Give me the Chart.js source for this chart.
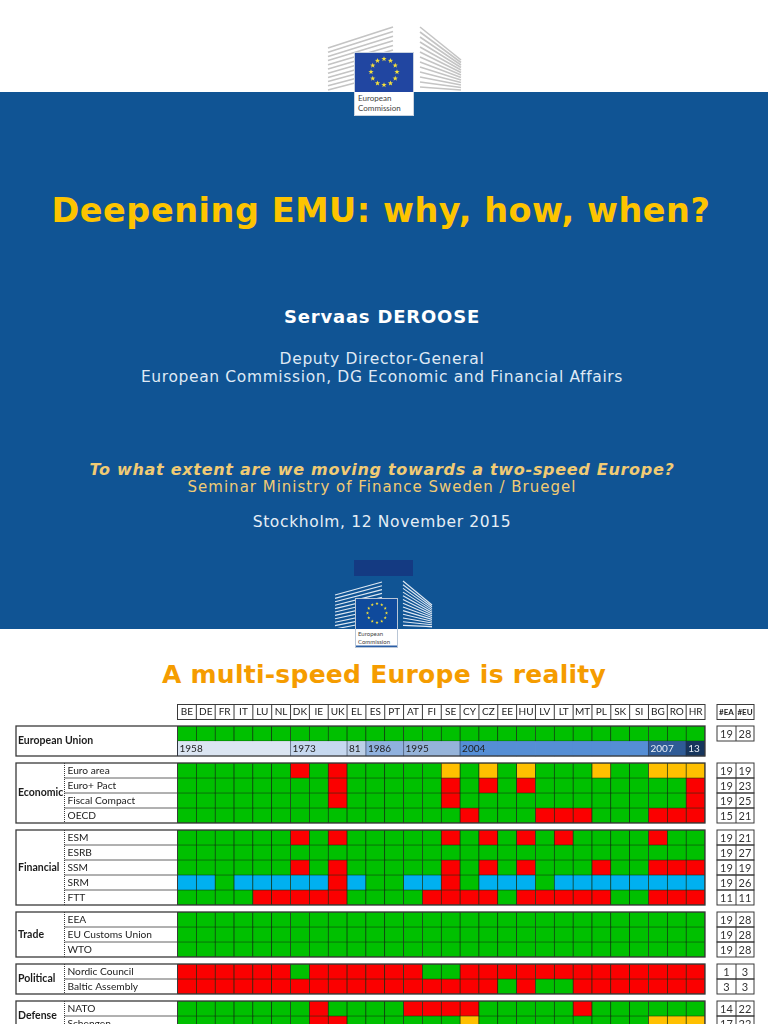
<!DOCTYPE html>
<html>
<head>
<meta charset="utf-8">
<title>A multi-speed Europe is reality</title>
<script src="https://cdn.jsdelivr.net/npm/chart.js@4/dist/chart.umd.min.js"></script>
<style>
  html, body { margin: 0; padding: 0; background: #fff; }
  #page { position: relative; width: 768px; height: 1024px; overflow: hidden; font-family: "DejaVu Sans", sans-serif; }
  #band { position: absolute; left: 0; top: 92px; width: 768px; height: 537px; background: #105494; }
  #logos { position: absolute; left: 0; top: 0; }
  .line { position: absolute; left: 0; width: 768px; text-align: center; white-space: nowrap; transform: translateY(-50%); }
  .logo-text { position: absolute; font-family: Lato, sans-serif; color: #444; white-space: nowrap; }
  #chart-wrap { position: absolute; left: 0; top: 695px; width: 768px; height: 329px; }
</style>
</head>
<body>
<div id="page">
  <div id="band"></div>
  <svg id="logos" width="768" height="1024"></svg>
  <div class="logo-text" style="left:358px;top:93px;font-size:8px;line-height:10px">European<br>Commission</div>
  <div class="logo-text" style="left:358px;top:630px;font-size:6px;line-height:7.5px">European<br>Commission</div>

  <div class="line" style="top:210px;left:-3px;color:#fdc400;font-size:33.5px;font-weight:bold;letter-spacing:.55px">Deepening EMU: why, how, when?</div>
  <div class="line" style="top:316px;left:-2px;color:#fff;font-size:18px;font-weight:bold;letter-spacing:.8px">Servaas DEROOSE</div>
  <div class="line" style="top:359px;left:-2px;color:#dfe9f4;font-size:15.5px;letter-spacing:.65px">Deputy Director-General</div>
  <div class="line" style="top:377px;left:-2px;color:#dfe9f4;font-size:15.5px;letter-spacing:.63px">European Commission, DG Economic and Financial Affairs</div>
  <div class="line" style="top:469px;left:-2px;color:#f0cb74;font-size:16px;font-weight:bold;font-style:italic;letter-spacing:.7px">To what extent are we moving towards a two-speed Europe?</div>
  <div class="line" style="top:487px;left:-2px;color:#f0cb74;font-size:15px;letter-spacing:1px">Seminar Ministry of Finance Sweden / Bruegel</div>
  <div class="line" style="top:522px;left:-2px;color:#e6eef6;font-size:15.5px;letter-spacing:.65px">Stockholm, 12 November 2015</div>
  <div class="line" style="top:674px;left:0;color:#f59c00;font-size:25px;font-weight:bold;letter-spacing:.25px">A multi-speed Europe is reality</div>

  <div id="chart-wrap"><canvas id="chart" width="768" height="329"></canvas></div>
</div>

<script>
// Member states, in the order of the slide
const countries = ['BE','DE','FR','IT','LU','NL','DK','IE','UK','EL','ES','PT','AT','FI','SE','CY','CZ','EE','HU','LV','LT','MT','PL','SK','SI','BG','RO','HR'];

// EU accession bands (label and number of columns each one spans)
const joinLabels = ['1958','1973','81','1986','1995','2004','2007','13'];
const joinSpans = [6,3,1,2,3,10,2,1];

// Cell status: 0 member, 1 not a member, 2 outside but committed, 3 via ECB/other
const euMember       = [0,0,0,0,0,0,0,0,0,0,0,0,0,0,0,0,0,0,0,0,0,0,0,0,0,0,0,0];
const euroArea       = [0,0,0,0,0,0,1,0,1,0,0,0,0,0,2,0,2,0,2,0,0,0,2,0,0,2,2,2];
const euroPlusPact   = [0,0,0,0,0,0,0,0,1,0,0,0,0,0,1,0,1,0,1,0,0,0,0,0,0,0,0,1];
const fiscalCompact  = [0,0,0,0,0,0,0,0,1,0,0,0,0,0,1,0,0,0,0,0,0,0,0,0,0,0,0,1];
const oecd           = [0,0,0,0,0,0,0,0,0,0,0,0,0,0,0,1,0,0,0,1,1,1,0,0,0,1,1,1];
const esm            = [0,0,0,0,0,0,1,0,1,0,0,0,0,0,1,0,1,0,1,0,1,0,0,0,0,1,0,0];
const esrb           = [0,0,0,0,0,0,0,0,0,0,0,0,0,0,0,0,0,0,0,0,0,0,0,0,0,0,0,0];
const ssm            = [0,0,0,0,0,0,1,0,1,0,0,0,0,0,1,0,1,0,1,0,0,0,1,0,0,1,1,1];
const srm            = [3,3,0,3,3,3,3,3,1,3,0,0,3,3,1,0,3,3,3,0,3,3,3,3,3,3,3,3];
const ftt            = [0,0,0,0,1,1,1,1,1,0,0,0,0,1,1,1,1,0,1,1,1,1,1,0,0,1,1,1];
const eea            = [0,0,0,0,0,0,0,0,0,0,0,0,0,0,0,0,0,0,0,0,0,0,0,0,0,0,0,0];
const customsUnion   = [0,0,0,0,0,0,0,0,0,0,0,0,0,0,0,0,0,0,0,0,0,0,0,0,0,0,0,0];
const wto            = [0,0,0,0,0,0,0,0,0,0,0,0,0,0,0,0,0,0,0,0,0,0,0,0,0,0,0,0];
const nordicCouncil  = [1,1,1,1,1,1,0,1,1,1,1,1,1,0,0,1,1,1,1,1,1,1,1,1,1,1,1,1];
const balticAssembly = [1,1,1,1,1,1,1,1,1,1,1,1,1,1,1,1,1,0,1,0,0,1,1,1,1,1,1,1];
const nato           = [0,0,0,0,0,0,0,1,0,0,0,0,1,1,1,1,0,0,0,0,0,1,0,0,0,0,0,0];
const schengen       = [0,0,0,0,0,0,0,1,1,0,0,0,0,0,0,2,0,0,0,0,0,0,0,0,0,2,2,2];

const groupNames = ['European Union','Economic','Financial','Trade','Political','Defense'];
const groupSizes = [2,4,5,3,2,2];
const rowNames = ['','','Euro area','Euro+ Pact','Fiscal Compact','OECD','ESM','ESRB','SSM','SRM','FTT','EEA','EU Customs Union','WTO','Nordic Council','Baltic Assembly','NATO','Schengen'];
// null is the accession band, which sits under the EU row
const rowStatus = [euMember,null,euroArea,euroPlusPact,fiscalCompact,oecd,esm,esrb,ssm,srm,ftt,eea,customsUnion,wto,nordicCouncil,balticAssembly,nato,schengen];
const countEA = [19,null,19,19,19,15,19,19,19,19,11,19,19,19,1,3,14,17];
const countEU = [28,null,19,23,25,21,21,27,19,26,11,28,28,28,3,3,22,22];

// Styling
const statusColors = ['#00c000','#fb0000','#ffc000','#00b0f0'];
const joinColors = ['#dbe5f2','#c6d8ef','#bccfe6','#8fb1de','#95b3d9','#558ed5','#2f5b96','#16355c'];
const gapUnits = 7 / 15; // gap between groups, in row heights
const rowHeight = 15;

// Row start positions on the y scale, one unit per row
const rowTop = [];
const groupTop = [];
let pos = 0;
groupSizes.forEach(size => {
  groupTop.push(pos);
  for (let i = 0; i < size; i++) rowTop.push(pos + i);
  pos += size + gapUnits;
});

const joinColumn = [];
joinSpans.forEach((span, i) => { for (let k = 0; k < span; k++) joinColumn.push(i); });

const datasets = rowStatus.map((status, r) => ({
  label: rowNames[r] || (status ? groupNames[0] : 'Accession'),
  data: countries.map(() => [rowTop[r], rowTop[r] + 1]),
  grouped: false,
  barPercentage: 1,
  categoryPercentage: 1,
  borderSkipped: false,
  borderColor: '#123012',
  borderWidth: status ? 0.7 : 0,
  backgroundColor: ctx => status ? statusColors[status[ctx.dataIndex]] : joinColors[joinColumn[ctx.dataIndex]]
}));

const tableFont = 'Lato, sans-serif';
const lineColor = '#3a3a3a';

// Left label table, header boxes, accession labels and the two count columns
const slideTable = {
  id: 'slideTable',
  afterDatasetsDraw(chart) {
    const c = chart.ctx, y = chart.scales.y;
    const left = 16, split = 64.5, right = chart.chartArea.left, tableRight = chart.chartArea.right;
    const colW = (tableRight - right) / countries.length;
    const ea = 717, mid = 736, eu = 754;
    c.save();
    c.textBaseline = 'middle';

    // groups: frame, divider and bold label
    groupNames.forEach((name, g) => {
      const top = y.getPixelForValue(groupTop[g]);
      const bottom = y.getPixelForValue(groupTop[g] + groupSizes[g]);
      c.strokeStyle = lineColor;
      c.lineWidth = 1.3;
      c.strokeRect(left, top, tableRight - left, bottom - top);
      c.fillStyle = '#1c1c1c';
      c.font = 'bold 10.5px ' + tableFont;
      c.textAlign = 'left';
      c.fillText(name, left + 2, (top + bottom) / 2);
      if (g > 0) {
        c.setLineDash([1, 1]);
        c.lineWidth = 1;
        c.beginPath(); c.moveTo(split, top); c.lineTo(split, bottom); c.stroke();
        c.setLineDash([]);
        c.lineWidth = 0.8;
        for (let i = 1; i < groupSizes[g]; i++) {
          const ly = y.getPixelForValue(groupTop[g] + i);
          c.beginPath(); c.moveTo(split, ly); c.lineTo(right, ly); c.stroke();
        }
      }
      c.lineWidth = 1;
      c.beginPath(); c.moveTo(right, top); c.lineTo(right, bottom); c.stroke();
    });

    // accession band separators and labels
    const bandTop = y.getPixelForValue(rowTop[1]);
    const bandBottom = y.getPixelForValue(rowTop[1] + 1);
    let col = 0;
    joinLabels.forEach((label, i) => {
      const bx = right + col * colW;
      c.strokeStyle = 'rgba(40,50,70,0.7)';
      c.lineWidth = 0.8;
      c.beginPath(); c.moveTo(bx, bandTop); c.lineTo(bx, bandBottom); c.stroke();
      c.fillStyle = i >= 6 ? '#e8eef6' : '#222';
      c.font = '10px ' + tableFont;
      c.textAlign = 'left';
      c.fillText(label, bx + 2, (bandTop + bandBottom) / 2 + 0.5);
      col += joinSpans[i];
    });

    // country header boxes
    const headTop = 9.5, headBottom = 24.5;
    c.strokeStyle = lineColor;
    c.lineWidth = 1;
    c.strokeRect(right, headTop, tableRight - right, headBottom - headTop);
    for (let i = 1; i < countries.length; i++) {
      const hx = right + i * colW;
      c.beginPath(); c.moveTo(hx, headTop); c.lineTo(hx, headBottom); c.stroke();
    }

    // count columns
    c.strokeRect(ea, headTop, eu - ea, headBottom - headTop);
    c.beginPath(); c.moveTo(mid, headTop); c.lineTo(mid, headBottom); c.stroke();
    c.fillStyle = '#222';
    c.font = 'bold 8px ' + tableFont;
    c.textAlign = 'center';
    c.fillText('#EA', (ea + mid) / 2, (headTop + headBottom) / 2);
    c.fillText('#EU', (mid + eu) / 2, (headTop + headBottom) / 2);
    c.font = '11px ' + tableFont;
    countEA.forEach((v, r) => {
      if (v === null) return;
      const ty = y.getPixelForValue(rowTop[r]);
      const by = y.getPixelForValue(rowTop[r] + 1);
      c.strokeStyle = lineColor;
      c.strokeRect(ea, ty, eu - ea, by - ty);
      c.beginPath(); c.moveTo(mid, ty); c.lineTo(mid, by); c.stroke();
      c.fillStyle = '#333';
      c.fillText(String(v), (ea + mid) / 2, (ty + by) / 2 + 0.5);
      c.fillText(String(countEU[r]), (mid + eu) / 2, (ty + by) / 2 + 0.5);
    });
    c.restore();
  }
};

new Chart(document.getElementById('chart'), {
  type: 'bar',
  data: { labels: countries, datasets: datasets },
  plugins: [slideTable],
  options: {
    responsive: false,
    animation: false,
    layout: { padding: { left: 67.5, right: 63, top: 0, bottom: 0 } },
    plugins: { legend: { display: false }, tooltip: { enabled: false }, title: { display: false } },
    scales: {
      x: {
        position: 'top',
        grid: { display: false, drawTicks: false },
        border: { display: false },
        ticks: { autoSkip: false, maxRotation: 0, minRotation: 0, padding: 8, color: '#222', font: { family: tableFont, size: 10 } },
        afterFit(axis) { axis.height = 31; axis.paddingLeft = 0; axis.paddingRight = 0; }
      },
      y: {
        reverse: true,
        min: 0,
        max: 298 / rowHeight,
        grid: { display: false, drawTicks: false },
        border: { display: false },
        afterBuildTicks(axis) {
          axis.ticks = rowNames.map((name, r) => ({ value: rowTop[r] + 0.5, label: name }));
        },
        ticks: {
          autoSkip: false,
          crossAlign: 'far',
          padding: 0,
          color: '#222',
          font: { family: tableFont, size: 10.2 },
          callback(value, index) { return rowNames[index]; }
        },
        afterFit(axis) { axis.width = 110; axis.paddingTop = 0; axis.paddingBottom = 0; }
      }
    }
  }
});

// Commission logos, drawn once behind the text
function star(cx, cy, r) {
  let pts = '';
  for (let i = 0; i < 10; i++) {
    const a = -Math.PI / 2 + i * Math.PI / 5, d = i % 2 ? r * 0.4 : r;
    pts += (cx + d * Math.cos(a)).toFixed(2) + ',' + (cy + d * Math.sin(a)).toFixed(2) + ' ';
  }
  return `<polygon points="${pts}" fill="#f5e03c"/>`;
}
function flag(x, y, w, h, cx, cy, ring, size, fill) {
  let s = `<rect x="${x}" y="${y}" width="${w}" height="${h}" fill="${fill}"/>`;
  for (let i = 0; i < 12; i++) {
    const a = i * Math.PI / 6;
    s += star(cx + ring * Math.cos(a), cy + ring * Math.sin(a), size);
  }
  return s;
}
function wing(n, x1, top1, step1, x2, top2, step2, color, width) {
  let s = '';
  for (let i = 0; i < n; i++) {
    s += `<line x1="${x1}" y1="${top1 + i * step1}" x2="${x2}" y2="${top2 + i * step2}" stroke="${color}" stroke-width="${width}"/>`;
  }
  return s;
}
document.getElementById('logos').innerHTML =
  // top logo
  `<clipPath id="topClip"><rect x="0" y="0" width="768" height="91"/></clipPath>` +
  `<g clip-path="url(#topClip)">` +
  wing(11, 328, 48, 4.2, 393, 27, 4.6, '#c4c4c4', 1.6) +
  wing(14, 420, 27, 5, 461, 60, 2.5, '#c4c4c4', 1.6) +
  `</g>` +
  `<rect x="354.5" y="52.5" width="59" height="63" fill="#fff" stroke="#c9d3e0"/>` +
  flag(355, 53, 58, 39, 384, 72, 13, 2.8, '#2146a1') +
  // bottom logo
  `<rect x="354" y="560" width="59" height="16" fill="#143a82"/>` +
  `<clipPath id="lowClip"><rect x="0" y="576" width="768" height="52"/></clipPath>` +
  `<g clip-path="url(#lowClip)">` +
  wing(11, 335, 595, 3.4, 382, 582, 3.8, '#dfe9f4', 1.1) +
  wing(14, 403, 581, 3.7, 432, 605, 1.8, '#dfe9f4', 1.1) +
  `</g>` +
  `<rect x="355.5" y="598.5" width="42" height="49" fill="#fff" stroke="#b9c6d6"/>` +
  flag(356, 599, 41, 30, 377, 613, 9.5, 1.7, '#0f4a9c') +
  `<rect x="356" y="645.5" width="41" height="1.5" fill="#2a5ea6"/>`;
</script>
</body>
</html>
